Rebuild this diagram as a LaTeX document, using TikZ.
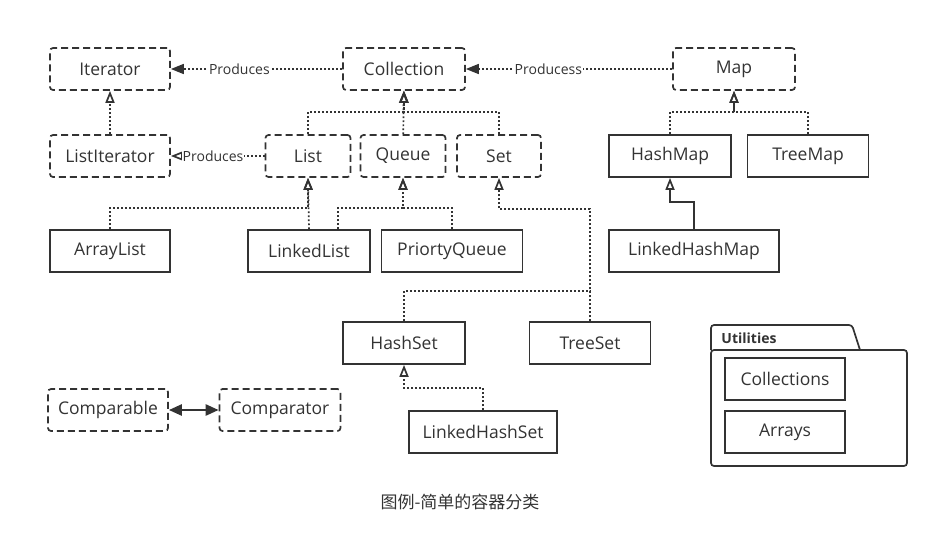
\documentclass[tikz,border=0pt]{standalone}
\usepackage{fontspec}
\setmainfont{Open Sans}
\newfontfamily\cjk{Noto Sans CJK SC}
\usetikzlibrary{arrows.meta}
\tikzset{
  iface/.style={draw, line width=1.7pt, dash pattern=on 7pt off 4pt, rounded corners=3pt, minimum height=42pt, inner sep=0pt, font=\fontsize{17.5}{20}\selectfont, text=black!80},
  cls/.style={draw, line width=1.7pt, minimum height=42pt, inner sep=0pt, font=\fontsize{17.5}{20}\selectfont, text=black!80},
  impl/.style={line width=1.7pt, dash pattern=on 1.7pt off 2.3pt, -{Triangle[open,length=12pt,width=9pt,line width=1.7pt]}},
  ext/.style={line width=1.7pt, -{Triangle[open,length=12pt,width=9pt,line width=1.7pt]}},
  prod/.style={line width=1.7pt, dash pattern=on 1.7pt off 2.3pt, -{Triangle[length=13pt,width=10pt]}},
  lbl/.style={fill=white, inner sep=1pt, font=\fontsize{14}{16}\selectfont, text=black!80}
}
\begin{document}
\begin{tikzpicture}[x=1pt, y=-1pt, draw=black!80]
    \useasboundingbox (0,0) rectangle (939,554);
    \node [iface, minimum width=120pt] (it) at (110, 69) {Iterator};
    \node [iface, minimum width=122pt] (col) at (404, 69) {Collection};
    \node [iface, minimum width=122pt] (map) at (734, 69) {Map};
    \node [iface, minimum width=120pt] (lit) at (110,156) {ListIterator};
    \node [iface, minimum width=85pt]  (lst) at (308,156) {List};
    \node [iface, minimum width=85pt]  (que) at (403,156) {Queue};
    \node [iface, minimum width=84pt]  (set) at (499,156) {Set};
    \node [cls, minimum width=122pt] (hmap) at (670,156) {HashMap};
    \node [cls, minimum width=121pt] (tmap) at (808,156) {TreeMap};
    \node [cls, minimum width=120pt] (alst) at (110,251) {ArrayList};
    \node [cls, minimum width=122pt] (llst) at (309,251) {LinkedList};
    \node [cls, minimum width=141pt] (pque) at (452,251) {PriortyQueue};
    \node [cls, minimum width=170pt] (lhmap) at (694,251) {LinkedHashMap};
    \node [cls, minimum width=122pt] (hset) at (404,343) {HashSet};
    \node [cls, minimum width=121pt] (tset) at (590,343) {TreeSet};
    \node [cls, minimum width=148pt] (lhset) at (483,432) {LinkedHashSet};
    \node [iface, minimum width=120pt] (cmpb) at (108,410) {Comparable};
    \node [iface, minimum width=121pt] (cmpr) at (280,410) {Comparator};
    % utilities package
    \draw [line width=1.7pt, rounded corners=3pt] (711,350) -- (711,325) -- (852,325) -- (860,350);
    \draw [line width=1.7pt, rounded corners=3pt] (711,350) rectangle (907,466);
    \node [font=\bfseries\fontsize{14}{16}\selectfont, text=black!80] (util) at (749,338) {Utilities};
    \node [cls, minimum width=120pt] (cols) at (785,379) {Collections};
    \node [cls, minimum width=120pt] (arr) at (785,432) {Arrays};
    % produces
    \draw [prod] (col) to node [lbl, pos=0.6] {Produces} (it);
    \draw [prod] (map) to node [lbl, pos=0.6] {Producess} (col);
    \draw [impl] (lst) to node [lbl, pos=0.55] {Produces} (lit);
    \draw [impl] (lit) to (it);
    % collection hierarchy
    \draw [impl] (lst.north) -- ++(0,-22) -| (col.south);
    \draw [impl] (set.north) -- ++(0,-22) -| (col.south);
    \draw [impl] (que) to (col);
    \draw [impl] (hmap.north) -- ++(0,-22) -| (map.south);
    \draw [impl] (tmap.north) -- ++(0,-22) -| (map.south);
    \draw [impl] (alst.north) -- ++(0,-21) -| (lst.south);
    \draw [impl] (llst.north) -- (lst.south);
    \draw [impl] ([xshift=29pt]llst.north) -- ++(0,-21) -| (que.south);
    \draw [impl] (pque.north) -- ++(0,-21) -| (que.south);
    \draw [ext] (lhmap.north) -- ++(0,-27) -| (hmap.south);
    \draw [impl] (tset.north) -- ++(0,-112) -| (set.south);
    \draw [line width=1.7pt, dash pattern=on 1.7pt off 2.3pt] (hset.north) -- ++(0,-30) -| (tset.north);
    \draw [impl] (lhset.north) -- ++(0,-22) -| (hset.south);
    \draw [line width=2.5pt, {Triangle[length=13pt,width=11pt]}-{Triangle[length=13pt,width=11pt]}] (cmpb) to (cmpr);
    \node [font=\cjk\fontsize{17}{19}\selectfont, text=black!80] (cap) at (460,502) {图例-简单的容器分类};
\end{tikzpicture}
\end{document}
